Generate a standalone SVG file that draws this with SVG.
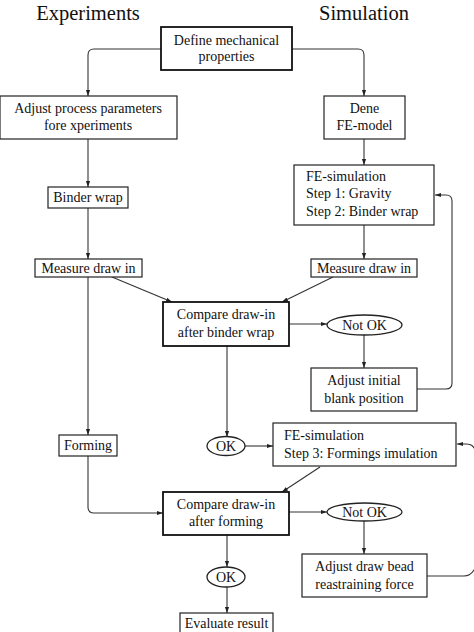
<svg xmlns="http://www.w3.org/2000/svg" width="474" height="632" viewBox="0 0 474 632">
<style>
text{font-family:"Liberation Serif","Times New Roman",serif;font-size:14px;fill:#111}
.c{text-anchor:middle}
.t{font-size:20.5px}
.b{fill:#fff;stroke:#222;stroke-width:1.2}
.bb{fill:#fff;stroke:#111;stroke-width:1.8}
.e{fill:#fff;stroke:#222;stroke-width:1.3}
.ln{fill:none;stroke:#333;stroke-width:1.1}
</style>
<defs>
<marker id="a" viewBox="0 0 10 10" refX="10" refY="5" markerWidth="6" markerHeight="6" orient="auto" markerUnits="userSpaceOnUse">
<path d="M0 1.5L10 5L0 8.5z" fill="#222"/>
</marker>
</defs>
<text class="c t" x="88" y="20">Experiments</text>
<text class="c t" x="364" y="20">Simulation</text>
<g id="connectors" class="ln" marker-end="url(#a)">
<path d="M161 49H94Q88 49 88 55V96"/>
<path d="M292 49H358Q364 49 364 55V96"/>
<path d="M88 139V187"/>
<path d="M364 139V165"/>
<path d="M88 208V259"/>
<path d="M364 225V259"/>
<path d="M112 277L172 302"/>
<path d="M333 277L282 302"/>
<path d="M289 324H327"/>
<path d="M364 335V368"/>
<path d="M417 389H446Q452 389 452 383V201Q452 195 446 195H435"/>
<path d="M227 346V437"/>
<path d="M245 446H273"/>
<path d="M427 576H464Q472 576 476 566V456Q476 444 466 444H457"/>
<path d="M320 467L282 492"/>
<path d="M88 277V435"/>
<path d="M88 456V507Q88 513 94 513H163"/>
<path d="M289 512H327"/>
<path d="M364 521V554"/>
<path d="M227 535V567"/>
<path d="M227 587V613"/>
</g>
<g id="define"><rect class="bb" x="161" y="27" width="131" height="43"/><text class="c" x="226.5" y="45">Define mechanical</text><text class="c" x="226.5" y="61">properties</text></g>
<g id="adjust-process"><rect class="b" x="0" y="96" width="177" height="43"/><text class="c" x="88" y="113">Adjust process parameters</text><text class="c" x="88" y="130">fore xperiments</text></g>
<g id="define-fe"><rect class="b" x="324" y="96" width="81" height="43"/><text class="c" x="364.5" y="113">Dene</text><text class="c" x="364.5" y="130">FE-model</text></g>
<g id="binder-wrap"><rect class="b" x="48" y="187" width="80" height="21"/><text class="c" x="88" y="202">Binder wrap</text></g>
<g id="fe-sim1"><rect class="b" x="294" y="165" width="140" height="60"/><text x="306" y="181">FE-simulation</text><text x="306" y="198">Step 1: Gravity</text><text x="306" y="216">Step 2: Binder wrap</text></g>
<g id="measure-left"><rect class="b" x="35" y="259" width="107" height="18"/><text class="c" x="88.5" y="273">Measure draw in</text></g>
<g id="measure-right"><rect class="b" x="311" y="259" width="106" height="18"/><text class="c" x="364" y="273">Measure draw in</text></g>
<g id="compare1"><rect class="bb" x="163" y="302" width="126" height="44"/><text class="c" x="226" y="319">Compare draw-in</text><text class="c" x="226" y="337">after binder wrap</text></g>
<g id="notok1"><ellipse class="e" cx="364.5" cy="325" rx="37.5" ry="10"/><text class="c" x="364.5" y="330">Not OK</text></g>
<g id="adjust-blank"><rect class="b" x="311" y="368" width="106" height="43"/><text class="c" x="364" y="385">Adjust initial</text><text class="c" x="364" y="403">blank position</text></g>
<g id="ok1"><ellipse class="e" cx="226" cy="446" rx="19" ry="9.5"/><text class="c" x="226" y="451">OK</text></g>
<g id="fe-sim2"><rect class="b" x="273" y="423" width="183" height="43"/><text x="284" y="440">FE-simulation</text><text x="284" y="458">Step 3: Formings imulation</text></g>
<g id="forming"><rect class="b" x="59" y="435" width="58" height="21"/><text class="c" x="88" y="450">Forming</text></g>
<g id="compare2"><rect class="bb" x="163" y="492" width="126" height="43"/><text class="c" x="226" y="509">Compare draw-in</text><text class="c" x="226" y="526">after forming</text></g>
<g id="notok2"><ellipse class="e" cx="364.5" cy="512" rx="37.5" ry="9"/><text class="c" x="364.5" y="517">Not OK</text></g>
<g id="adjust-bead"><rect class="b" x="302" y="554" width="125" height="43"/><text class="c" x="364.5" y="571">Adjust draw bead</text><text class="c" x="364.5" y="589">reastraining force</text></g>
<g id="ok2"><ellipse class="e" cx="226" cy="577" rx="19" ry="10"/><text class="c" x="226" y="582">OK</text></g>
<g id="evaluate"><rect class="b" x="180" y="613" width="93" height="24"/><text class="c" x="226.5" y="628">Evaluate result</text></g>
</svg>
